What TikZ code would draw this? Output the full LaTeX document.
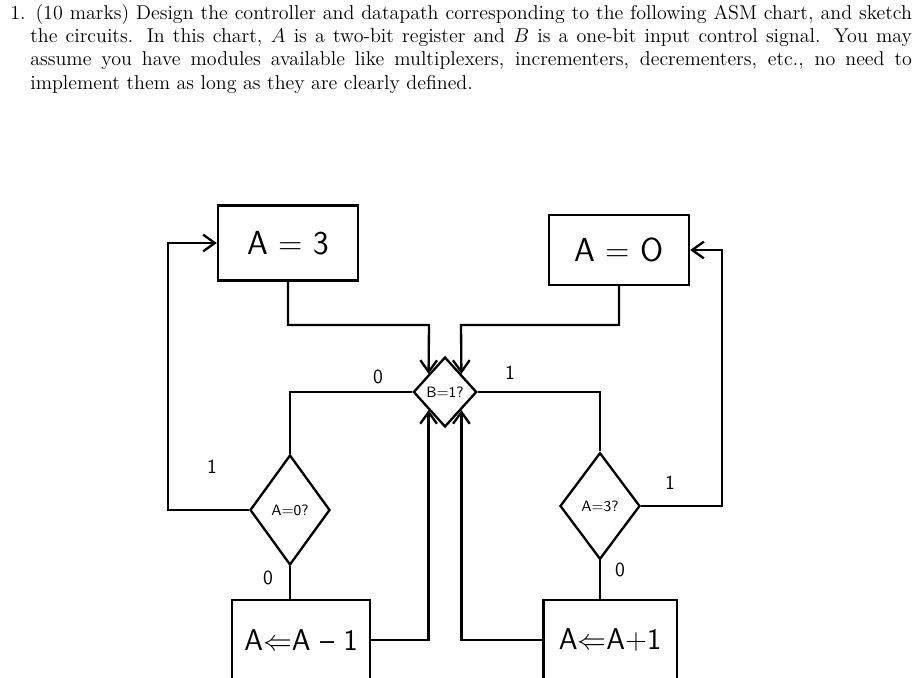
\documentclass[tikz,border=0pt]{standalone}
\usetikzlibrary{shapes.geometric,arrows.meta}
\begin{document}
\begin{tikzpicture}[x=0.6pt,y=-0.6pt,
  hand/.style={font=\sffamily},
  box/.style={draw,line width=1.4pt,rectangle,inner sep=0,hand},
  dia/.style={draw,line width=1.4pt,diamond,inner sep=0,hand},
  wire/.style={line width=1.4pt},
  arr/.style={wire,-{Straight Barb[length=7pt,width=10pt]}},
  lbl/.style={hand,font=\sffamily\large}]
\useasboundingbox (0,0) rectangle (918,678);
\node[anchor=north west,inner sep=0] (hdr) at (10,4) {\parbox{541pt}{\large\hangindent=12pt\hangafter=1
1. (10 marks) Design the controller and datapath corresponding to the following ASM chart, and sketch\linebreak
the circuits. In this chart, $A$ is a two-bit register and $B$ is a one-bit input control signal. You may\linebreak
assume you have modules available like multiplexers, incrementers, decrementers, etc., no need to\linebreak
implement them as long as they are clearly defined.}};
\node[box,minimum width=84pt,minimum height=45pt,font=\sffamily\fontsize{20}{24}\selectfont] (a3) at (288,243) {A = 3};
\node[box,minimum width=84pt,minimum height=42pt,font=\sffamily\fontsize{20}{24}\selectfont] (a0) at (619,250) {A = O};
\node[dia,minimum width=38pt,minimum height=42pt,font=\sffamily\small] (b) at (445,392) {B=1?};
\node[dia,minimum width=48pt,minimum height=66pt,font=\sffamily\small] (a0q) at (290,510) {A=0?};
\node[dia,minimum width=48pt,minimum height=64pt,font=\sffamily\small] (a3q) at (600,506) {A=3?};
\node[box,minimum width=83pt,minimum height=48pt,font=\sffamily\fontsize{18}{22}\selectfont] (dec) at (301,640) {A$\Leftarrow$A -- 1};
\node[box,minimum width=80pt,minimum height=48pt,font=\sffamily\fontsize{18}{22}\selectfont] (inc) at (610,640) {A$\Leftarrow$A+1};
\coordinate (j1) at (429,325);
\coordinate (j2) at (461,325);
\coordinate (c1) at (168,510);
\coordinate (c2) at (722,506);
\draw[arr] (a3.south) |- (j1) -- (b.north west);
\draw[arr] (a0.south) |- (j2) -- (b.north east);
\draw[wire] (b.west) -| (a0q.north);
\draw[wire] (b.east) -| (a3q.north);
\draw[arr] (a0q.west) -- (c1) |- (a3.west);
\draw[arr] (a3q.east) -- (c2) |- (a0.east);
\draw[wire] (a0q.south) -- (a0q.south |- dec.north);
\draw[wire] (a3q.south) -- (a3q.south |- inc.north);
\draw[arr] (dec.east) -| (b.south west);
\draw[arr] (inc.west) -| (b.south east);
\node[lbl] (l0b) at (378,377) {0};
\node[lbl] (l1b) at (510,373) {1};
\node[lbl] (l1a) at (212,467) {1};
\node[lbl] (l0a) at (268,578) {0};
\node[lbl] (l1c) at (670,483) {1};
\node[lbl] (l0c) at (620,570) {0};
\end{tikzpicture}
\end{document}
